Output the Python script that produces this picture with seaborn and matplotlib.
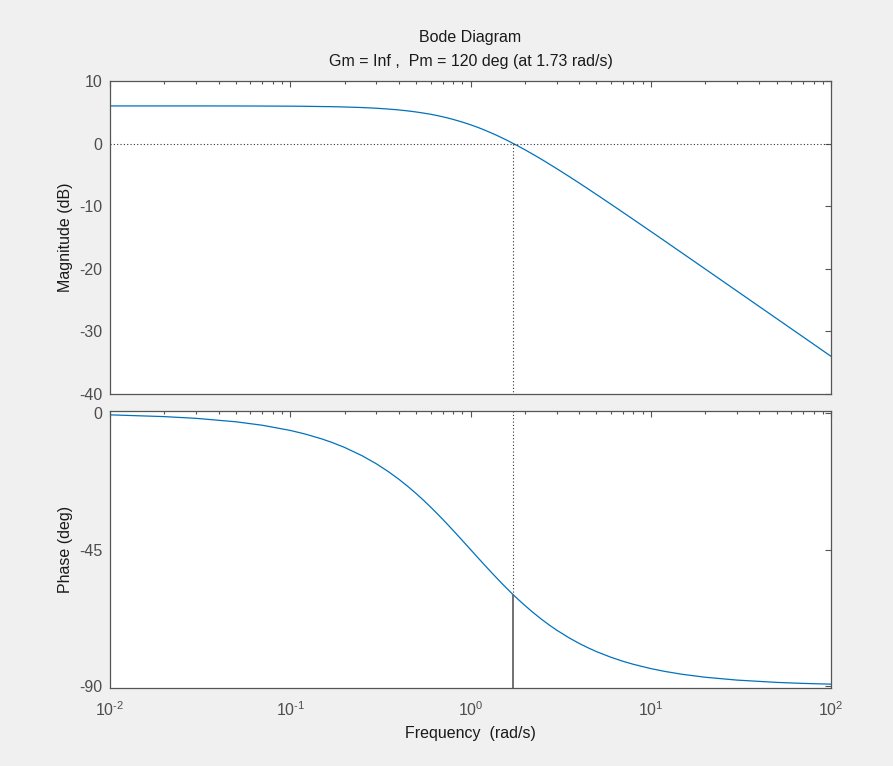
import numpy as np
import pandas as pd
import matplotlib
matplotlib.use('Agg')
import matplotlib.pyplot as plt
import seaborn as sns
from matplotlib.ticker import LogLocator, NullLocator

freq = [0.01, 0.02, 0.03, 0.05, 0.07, 0.1, 0.12, 0.15, 0.17, 0.2, 0.25, 0.3,
        0.35, 0.4, 0.45, 0.5, 0.55, 0.6, 0.65, 0.7, 0.75, 0.8, 0.9, 1.0, 1.1,
        1.2, 1.3, 1.4, 1.5, 1.6, 1.73, 1.85, 2.0, 2.2, 2.5, 2.75, 3.0, 3.5,
        4.0, 4.5, 5.0, 6.0, 7.0, 8.0, 10.0, 12.0, 15.0, 20.0, 30.0, 50.0,
        70.0, 100.0]
mag_db = [6.02, 6.02, 6.02, 6.01, 6.00, 5.98, 5.96, 5.92, 5.90, 5.85, 5.76,
          5.65, 5.52, 5.38, 5.22, 5.05, 4.87, 4.69, 4.49, 4.29, 4.08, 3.87,
          3.44, 3.01, 2.58, 2.15, 1.72, 1.31, 0.90, 0.51, 0.00, -0.44, -0.97,
          -1.64, -2.58, -3.31, -3.98, -5.20, -6.28, -7.25, -8.13, -9.66,
          -10.97, -12.11, -14.02, -15.59, -17.52, -20.01, -23.53, -27.96,
          -30.88, -33.98]
phase_deg = [-0.57, -1.15, -1.72, -2.86, -4.00, -5.71, -6.84, -8.53, -9.65,
             -11.31, -14.04, -16.70, -19.29, -21.80, -24.23, -26.57, -28.81,
             -30.96, -33.02, -34.99, -36.87, -38.66, -41.99, -45.00, -47.73,
             -50.19, -52.43, -54.46, -56.31, -57.99, -60.00, -61.61, -63.43,
             -65.56, -68.20, -70.02, -71.57, -74.05, -75.96, -77.47, -78.69,
             -80.54, -81.87, -82.87, -84.29, -85.24, -86.19, -87.14, -88.09,
             -88.85, -89.18, -89.43]

# Phasenreserve
wc = 1.73
pm_phase = -60.0

title_lines = ['Bode Diagram', 'Gm = Inf ,  Pm = 120 deg (at 1.73 rad/s)']
xtick_vals = [0.01, 0.1, 1, 10, 100]
xtick_labels = ['$10^{\u20102}$', '$10^{\u20101}$', '$10^{0}$', '$10^{1}$', '$10^{2}$']

df = pd.DataFrame({'freq': freq, 'mag': mag_db, 'phase': phase_deg})

sns.set_theme(style='white')
plt.rcParams['font.family'] = ['Liberation Sans', 'DejaVu Sans']
plt.rcParams['mathtext.fontset'] = 'custom'
plt.rcParams['mathtext.rm'] = 'Liberation Sans'
plt.rcParams['mathtext.it'] = 'Liberation Sans'
plt.rcParams['mathtext.default'] = 'regular'
plt.rcParams['axes.unicode_minus'] = False

W, H = 893, 766
fig = plt.figure(figsize=(W / 100, H / 100), dpi=100, facecolor='#f0f0f0')
ax1 = fig.add_axes([110 / W, 1 - 394 / H, 721 / W, 313 / H])
ax2 = fig.add_axes([110 / W, 1 - 688 / H, 721 / W, 277.3 / H])

blue = '#0072bd'
axis_col = '#555555'
text_col = '#4d4d4d'

sns.lineplot(data=df, x='freq', y='mag', ax=ax1, color=blue, linewidth=0.9)
sns.lineplot(data=df, x='freq', y='phase', ax=ax2, color=blue, linewidth=0.9)

# Markierungen der Durchtrittsfrequenz
ax1.axhline(0, color='#333333', linestyle=(0, (1, 2)), linewidth=0.8)
ax1.plot([wc, wc], [0, -40], color='#333333', linestyle=(0, (1, 2)), linewidth=0.8)
ax2.plot([wc, wc], [0.8, pm_phase], color='#333333', linestyle=(0, (1, 2)), linewidth=0.8)
ax2.plot([wc, wc], [pm_phase, -90.7], color='#666666', linewidth=1.3)

for ax in (ax1, ax2):
    ax.set_xscale('log')
    ax.set_xlim(0.01, 100)
    ax.set_facecolor('white')
    for s in ax.spines.values():
        s.set_color(axis_col)
        s.set_linewidth(0.9)
    ax.set_xticks(xtick_vals)
    ax.set_xticklabels(xtick_labels)
    ax.xaxis.set_minor_locator(LogLocator(base=10, subs=np.arange(2, 10), numticks=10))
    ax.tick_params(axis='both', which='both', direction='in', top=True, right=True,
                   colors=axis_col, labelcolor=text_col, labelsize=11.5, width=0.8)
    ax.tick_params(which='major', length=4.5)
    ax.tick_params(which='minor', length=2.5)
    ax.tick_params(axis='y', pad=5.5)
    ax.tick_params(axis='x', pad=9)
    ax.yaxis.set_minor_locator(NullLocator())
    ax.grid(False)

ax1.set_ylim(-40, 10)
ax1.set_yticks([10, 0, -10, -20, -30, -40])
ax1.set_yticklabels(['10', '0', '-10', '-20', '-30', '-40'])
ax1.tick_params(axis='x', labelbottom=False)
ax1.set_xlabel('')
ax1.set_ylabel('Magnitude (dB)', fontsize=11.5, color='#1a1a1a')
ax1.yaxis.set_label_coords(-0.052, 0.5)

ax2.set_ylim(-90.7, 0.8)
ax2.set_yticks([0, -45, -90])
ax2.set_yticklabels(['0', '-45', '-90'])
ax2.set_ylabel('Phase (deg)', fontsize=11.5, color='#1a1a1a')
ax2.yaxis.set_label_coords(-0.052, 0.5)
ax2.set_xlabel('Frequency  (rad/s)', fontsize=11.5, color='#1a1a1a')
ax2.xaxis.set_label_coords(0.5, -0.137)

fig.text(470.5 / W, 1 - 37.5 / H, title_lines[0], ha='center', va='center',
         fontsize=11.5, color='#1a1a1a')
fig.text(470.5 / W, 1 - 61.5 / H, title_lines[1], ha='center', va='center',
         fontsize=11.5, color='#1a1a1a')

fig.savefig('out.png', dpi=100, facecolor=fig.get_facecolor())
